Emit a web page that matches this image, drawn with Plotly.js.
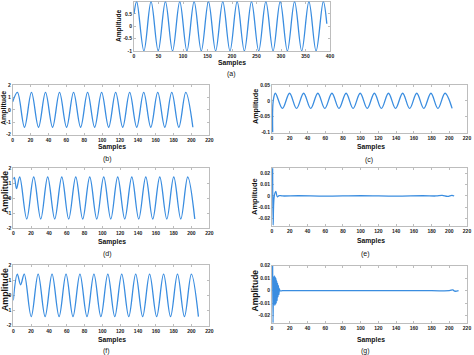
<!DOCTYPE html>
<html><head><meta charset="utf-8">
<script src="https://cdn.plot.ly/plotly-3.0.1.min.js"></script>
<style>html,body{margin:0;padding:0;background:#fff;}#chart{width:474px;height:355px;}</style>
</head><body><div id="chart"></div>
<script>
// ---- data (sample index, amplitude) ----
const aX = [0, 5.5, 20.2, 34.8, 49.4, 64.1, 78.7, 93.4, 108.0, 122.7, 137.3, 152.0, 166.6, 181.2, 195.9, 210.5, 225.2, 239.8, 254.5, 269.1, 283.8, 298.4, 313.0, 327.7, 342.3, 357.0, 371.6, 386.3, 393.5];
const aY = [0.5, 1, -1, 1, -1, 1, -1, 1, -1, 1, -1, 1, -1, 1, -1, 1, -1, 1, -1, 1, -1, 1, -1, 1, -1, 1, -1, 1, 0.1];

const bX = [0, 5.3, 13.2, 21.0, 28.9, 36.7, 44.6, 52.4, 60.3, 68.1, 76.0, 83.8, 91.7, 99.5, 107.4, 115.2, 123.1, 130.9, 138.8, 146.6, 154.5, 162.3, 170.2, 178.0, 185.9, 193.7, 201.6];
const bY = [0.65, 1.4, -1.4, 1.4, -1.4, 1.4, -1.4, 1.4, -1.4, 1.4, -1.4, 1.4, -1.4, 1.4, -1.4, 1.4, -1.4, 1.4, -1.4, 1.4, -1.4, 1.4, -1.4, 1.4, -1.4, 1.4, -1.4];

const cX = [0.8, 1.4, 3.8, 11.8, 19.8, 27.7, 35.7, 43.7, 51.7, 59.6, 67.6, 75.6, 83.6, 91.5, 99.5, 107.5, 115.5, 123.4, 131.4, 139.4, 147.4, 155.3, 163.3, 171.3, 179.3, 187.2, 195.2, 203.2];
const cY = [-0.1, 0.0, 0.024, -0.024, 0.024, -0.024, 0.024, -0.024, 0.024, -0.024, 0.024, -0.024, 0.024, -0.024, 0.024, -0.024, 0.024, -0.024, 0.024, -0.024, 0.024, -0.024, 0.024, -0.024, 0.024, -0.024, 0.024, -0.024];

const dX = [0, 1.2, 3.6, 7.2, 15.1, 22.9, 30.8, 38.6, 46.5, 54.4, 62.2, 70.1, 77.9, 85.8, 93.7, 101.5, 109.4, 117.2, 125.1, 133.0, 140.8, 148.7, 156.5, 164.4, 172.3, 180.1, 188.0, 195.8, 203.7];
const dY = [1.25, 1.38, 0.62, 1.4, -1.4, 1.4, -1.4, 1.4, -1.4, 1.4, -1.4, 1.4, -1.4, 1.4, -1.4, 1.4, -1.4, 1.4, -1.4, 1.4, -1.4, 1.4, -1.4, 1.4, -1.4, 1.4, -1.4, 1.4, -1.4];

const eX = [0.7, 1.3, 2.4, 4.3, 6.0, 8.0, 12, 30, 60, 100, 140, 170, 185, 192, 198, 203, 205.5];
const eY = [0.025, -0.026, -0.001, 0.004, -0.0008, 0.0003, 0, 0.0002, -0.0002, 0.0002, -0.0002, 0.0002, 0, 0.0005, -0.0004, 0.0006, 0];

const fX = [0, 4.5, 8.2, 12.3, 20.1, 27.9, 35.7, 43.5, 51.4, 59.2, 67.0, 74.8, 82.7, 90.5, 98.3, 106.1, 113.9, 121.7, 129.6, 137.4, 145.2, 153.0, 160.9, 168.7, 176.5, 184.3, 192.1, 199.9, 207.8];
const fY = [-0.33, 1.4, 0.7, 1.4, -1.4, 1.4, -1.4, 1.4, -1.4, 1.4, -1.4, 1.4, -1.4, 1.4, -1.4, 1.4, -1.4, 1.4, -1.4, 1.4, -1.4, 1.4, -1.4, 1.4, -1.4, 1.4, -1.4, 1.4, -1.4];

const gX = [0.7, 1.2, 1.7, 2.2, 2.7, 3.2, 3.6, 4.0, 4.4, 4.8, 5.3, 5.8, 6.3, 6.8, 7.3, 7.8, 8.3, 9.0, 12, 60, 120, 180, 200, 204, 206, 210.5];
const gY = [0.02, -0.026, 0.011, -0.011, 0.012, -0.012, 0.011, -0.011, 0.01, -0.01, 0.008, -0.008, 0.006, -0.005, 0.004, -0.003, 0.0015, 0, 0, 0, 0, 0, 0, 0.0006, -0.0004, 0];

// ---- tick labels ----
const ticksX400 = [0, 50, 100, 150, 200, 250, 300, 350, 400];
const ticksX220 = [0, 20, 40, 60, 80, 100, 120, 140, 160, 180, 200, 220];
const ticksYa = [-1, -0.5, 0, 0.5, 1];
const ticksYaText = ['-1', '-0.5', '0', '0.5', '1'];
const ticksY2 = [-2, -1, 0, 1, 2];
const ticksY2Text = ['-2', '-1', '0', '1', '2'];
const ticksYc = [-0.1, -0.05, 0, 0.05];
const ticksYcText = ['-0.1', '-0.05', '0', '0.05'];
const ticksYsmall = [-0.02, -0.01, 0, 0.01, 0.02];
const ticksYsmallText = ['-0.02', '-0.01', '0', '0.01', '0.02'];
const captions = ['(a)', '(b)', '(c)', '(d)', '(e)', '(f)', '(g)'];
const xTitle = 'Samples';
const yTitle = 'Amplitude';

// ---- layout helpers (pixel geometry) ----
const W = 474, H = 355;
const px = v => v / W;
const py = v => 1 - v / H;
const LINE = '#bdbdbd';
const tickFont = {family: 'Liberation Sans, Arial, sans-serif', size: 5, color: '#222', weight: 'bold'};

function xax(x0, x1, range, tv, anchor) {
  return {domain: [px(x0), px(x1)], range: range, tickvals: tv, ticktext: tv.map(String),
    showline: true, mirror: 'ticks', linecolor: LINE, linewidth: 1, ticks: 'inside', ticklen: 2,
    tickcolor: LINE, showgrid: false, zeroline: false, tickfont: tickFont, anchor: anchor,
    fixedrange: true, layer: 'below traces'};
}
function yax(y0, y1, range, tv, tt, anchor) {
  return {domain: [py(y1), py(y0)], range: range, tickvals: tv, ticktext: tt,
    showline: true, mirror: 'ticks', linecolor: LINE, linewidth: 1, ticks: 'inside', ticklen: 2,
    tickcolor: LINE, showgrid: false, zeroline: false, tickfont: tickFont, anchor: anchor,
    fixedrange: true, layer: 'below traces'};
}

const COLOR = '#3a8de0';
function tr(x, y, n) {
  const s = n === 1 ? '' : String(n);
  return {x: x, y: y, type: 'scatter', mode: 'lines', xaxis: 'x' + s, yaxis: 'y' + s, cliponaxis: false,
    line: {color: COLOR, width: 1.3, shape: 'spline', smoothing: 1}, hoverinfo: 'skip', showlegend: false};
}

const data = [tr(aX, aY, 1), tr(bX, bY, 2), tr(cX, cY, 3), tr(dX, dY, 4), tr(eX, eY, 5), tr(fX, fY, 6), tr(gX, gY, 7)];

const layout = {
  width: W, height: H, margin: {l: 0, r: 0, t: 0, b: 0},
  paper_bgcolor: '#fff', plot_bgcolor: '#fff', showlegend: false,
  xaxis:  xax(134, 330, [0, 400], ticksX400, 'y'),
  yaxis:  yax(1.5, 51, [-1, 1], ticksYa, ticksYaText, 'x'),
  xaxis2: xax(12.7, 209.3, [0, 220], ticksX220, 'y2'),
  yaxis2: yax(85, 134.7, [-2, 2], ticksY2, ticksY2Text, 'x2'),
  xaxis3: xax(272, 467, [0, 220], ticksX220, 'y3'),
  yaxis3: yax(85, 132.5, [-0.1, 0.05], ticksYc, ticksYcText, 'x3'),
  xaxis4: xax(13.3, 209.3, [0, 220], ticksX220, 'y4'),
  yaxis4: yax(168, 228, [-2, 2], ticksY2, ticksY2Text, 'x4'),
  xaxis5: xax(272, 467, [0, 220], ticksX220, 'y5'),
  yaxis5: yax(168.3, 226, [-0.0267, 0.0246], ticksYsmall, ticksYsmallText, 'x5'),
  xaxis6: xax(13.3, 209.3, [0, 220], ticksX220, 'y6'),
  yaxis6: yax(265, 325.7, [-2, 2], ticksY2, ticksY2Text, 'x6'),
  xaxis7: xax(272, 467, [0, 220], ticksX220, 'y7'),
  yaxis7: yax(265.7, 322.7, [-0.0256, 0.02], ticksYsmall, ticksYsmallText, 'x7'),
  annotations: []
};

function ann(text, x, y, size, bold, angle) {
  layout.annotations.push({text: text, xref: 'paper', yref: 'paper', x: px(x), y: py(y),
    xanchor: 'center', yanchor: 'middle', showarrow: false, textangle: angle || 0,
    font: {family: 'Liberation Sans, Arial, sans-serif', size: size, color: '#111', weight: bold ? 'bold' : 'normal'}});
}
// Samples labels
const sPos = [[232, 63], [112, 147], [371, 147], [112, 241.5], [371, 241], [112, 340], [371, 340]];
sPos.forEach(p => ann(xTitle, p[0], p[1], 6.8, true));
// captions
const cPos = [[231, 74], [107, 159], [369, 160], [107, 254.3], [365, 254.3], [106, 351], [365, 350.7]];
cPos.forEach((p, i) => ann(captions[i], p[0], p[1], 7, false));
// Amplitude labels
const aPos = [[119, 26, 6.6], [4, 108, 7], [255, 107, 7.2], [5, 192, 8.6], [254, 197, 7.5], [5, 290, 8.8], [254.5, 291, 8.5]];
aPos.forEach(p => ann(yTitle, p[0], p[1], p[2], true, -90));

Plotly.newPlot('chart', data, layout, {staticPlot: true, displayModeBar: false});
</script>
</body></html>
